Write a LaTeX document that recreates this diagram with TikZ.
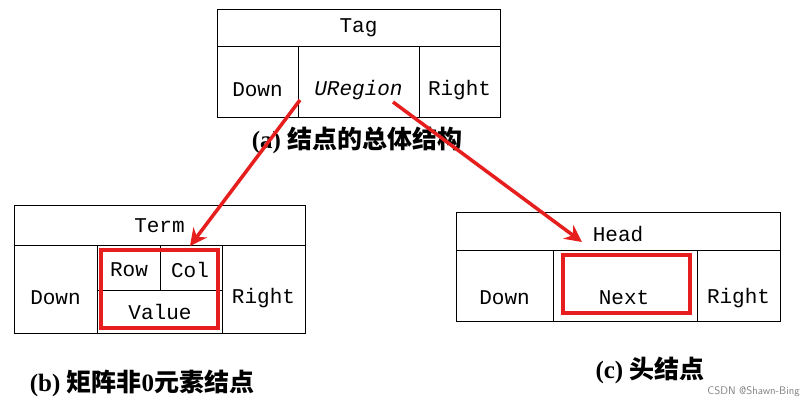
\documentclass[tikz,border=0pt]{standalone}
\usetikzlibrary{arrows.meta}
\usepackage{fontspec}
\setmainfont{Liberation Serif}
\newfontfamily\lab{Liberation Mono}
\newfontfamily\cjk{Noto Sans CJK SC}
\begin{document}
\begin{tikzpicture}[x=1pt,y=-1pt,
  cell/.style={draw=black,line width=0.8pt},
  txt/.style={font=\lab\fontsize{21}{24}\selectfont,inner sep=0pt},
  captxt/.style={font=\bfseries\fontsize{25}{28}\selectfont,inner sep=0pt},
  redbox/.style={draw={rgb,255:red,230;green,30;blue,30},line width=3.5pt},
  arr/.style={draw={rgb,255:red,230;green,30;blue,30},line width=3.5pt,-{Stealth[length=17pt,width=17pt]}}]
\useasboundingbox (0,0) rectangle (808,405);
% (a)
\draw[cell] (217,9) rectangle (500,117);
\draw[cell] (217,46) -- (500,46) (298,46) -- (298,117) (419,46) -- (419,117);
\node[txt] (tag) at (358.5,28) {Tag};
\node[txt] (downa) at (257.5,90) {Down};
\node[txt] (ureg) at (358.5,90) {\itshape URegion};
\node[txt] (righta) at (459.5,90) {Right};
\node[captxt] (capa) at (357,140) {(a) {\cjk\bfseries 结点的总体结构}};
% (b)
\draw[cell] (14,205) rectangle (305,333);
\draw[cell] (14,245) -- (305,245) (97,245) -- (97,333) (222,245) -- (222,333);
\draw[cell] (97,290) -- (222,290) (160,245) -- (160,290);
\node[txt] (term) at (159.5,226) {Term};
\node[txt] (downb) at (55.5,298) {Down};
\node[txt] (row) at (129,270) {Row};
\node[txt] (col) at (190,270) {Col};
\node[txt] (val) at (160,312) {Value};
\node[txt] (rightb) at (263.5,298) {Right};
\draw[redbox] (101,250) rectangle (218,328);
\node[captxt] (capb) at (142,383) {(b) {\cjk\bfseries 矩阵非}0{\cjk\bfseries 元素结点}};
% (c)
\draw[cell] (456,212) rectangle (780,321);
\draw[cell] (456,250) -- (780,250) (553,250) -- (553,321) (697,250) -- (697,321);
\node[txt] (head) at (618,234) {Head};
\node[txt] (downc) at (504.5,298) {Down};
\node[txt] (next) at (624,298) {Next};
\node[txt] (rightc) at (738.5,298) {Right};
\draw[redbox] (563,255) rectangle (690,313);
\node[captxt] (capc) at (650,370) {(c) {\cjk\bfseries 头结点}};
% arrows
\coordinate (a1s) at (300,100); \coordinate (a1e) at (190,246);
\coordinate (a2s) at (393,102); \coordinate (a2e) at (582,242);
\draw[arr] (a1s) -- (a1e);
\draw[arr] (a2s) -- (a2e);
\node[font=\fontsize{11}{13}\selectfont\sffamily,text=gray,anchor=east,inner sep=0pt] (wm) at (800,392) {CSDN @Shawn-Bing};
\end{tikzpicture}
\end{document}
